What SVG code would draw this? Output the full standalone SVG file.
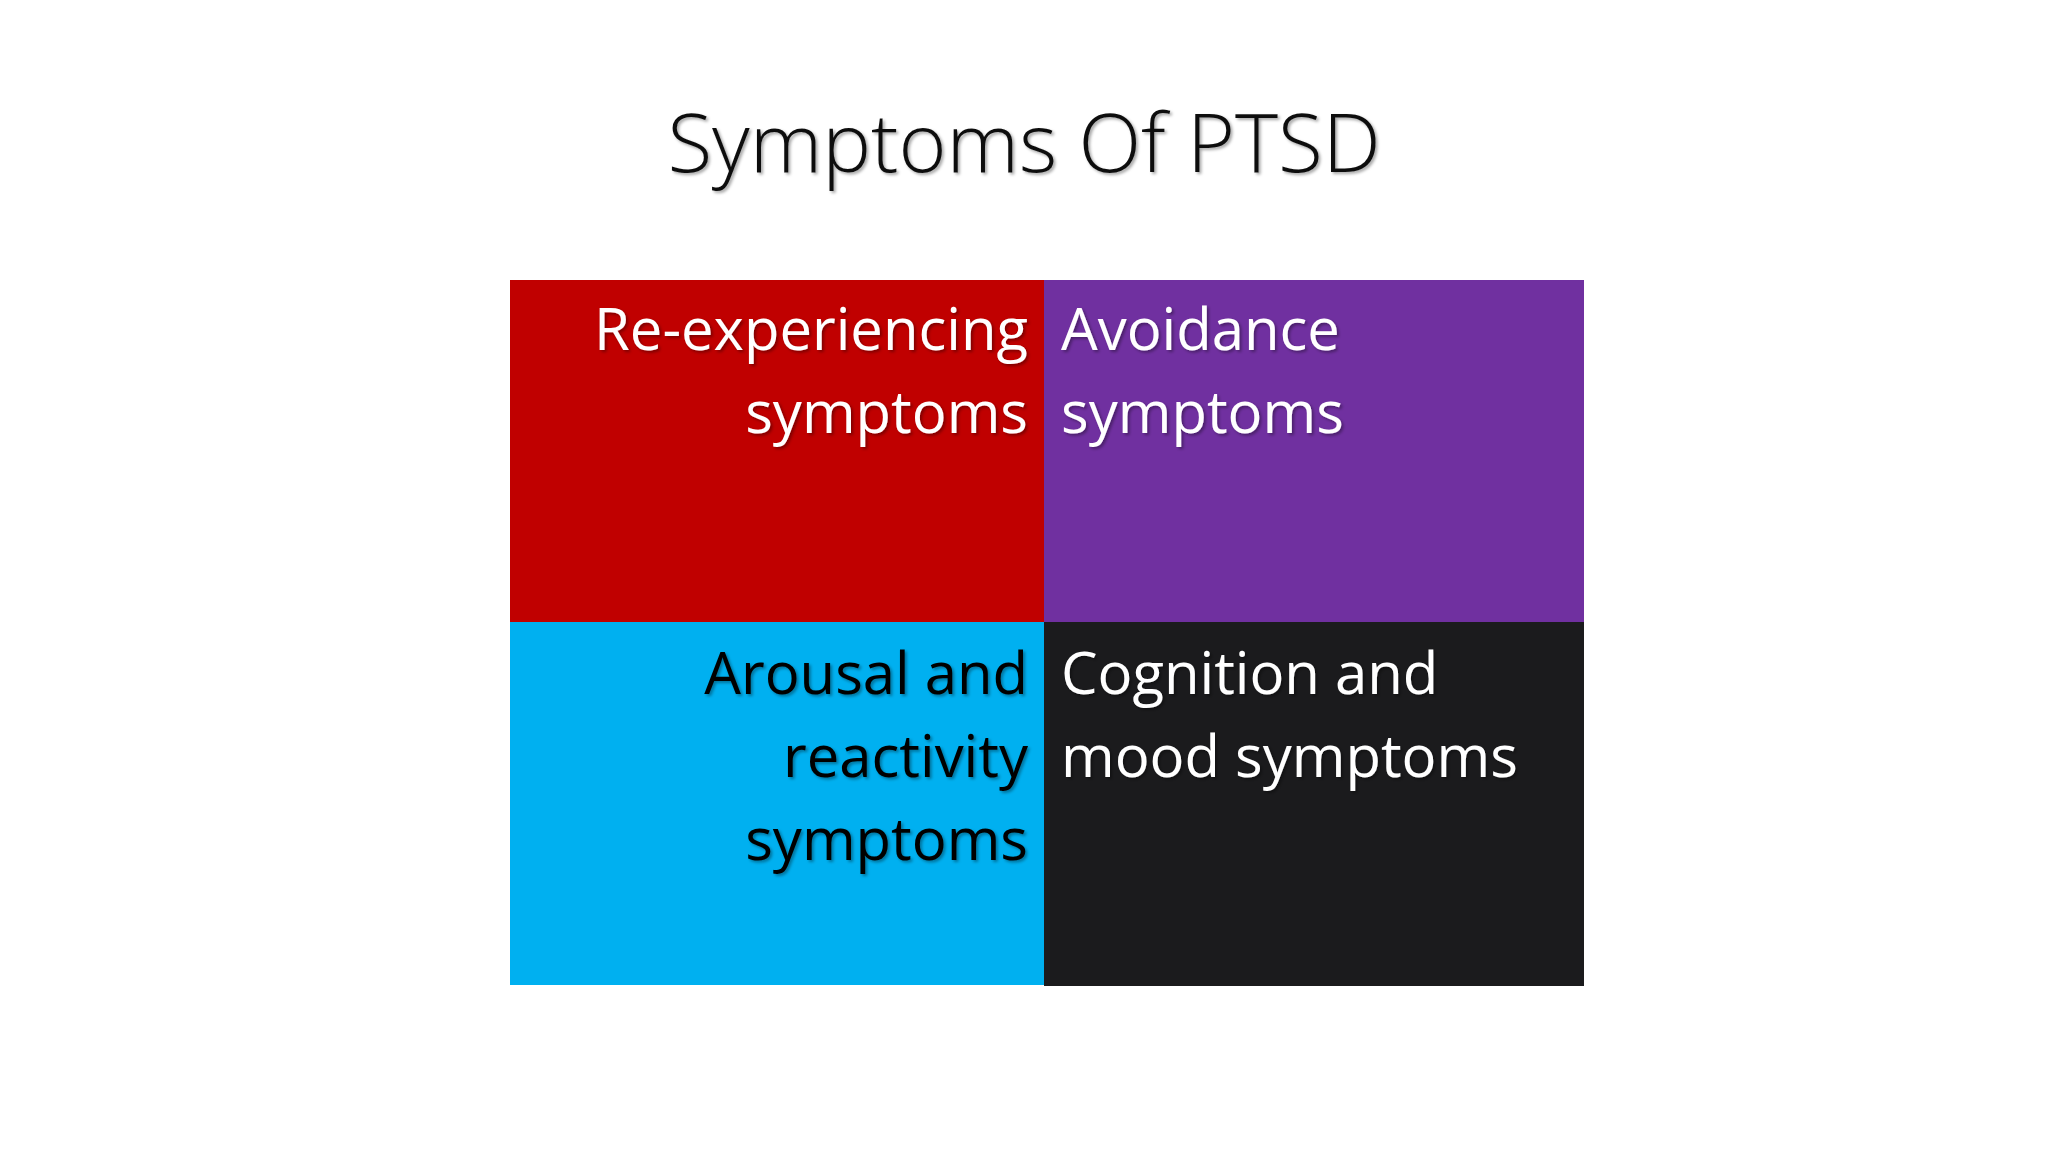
<svg xmlns="http://www.w3.org/2000/svg" width="2048" height="1152" viewBox="0 0 2048 1152">
<defs>
<filter id="sh" x="-10%" y="-10%" width="120%" height="130%"><feDropShadow dx="2" dy="2" stdDeviation="1.5" flood-color="#000" flood-opacity="0.35"/></filter>
</defs>
<style>
.t{font-family:"Open Sans","Liberation Sans",sans-serif;font-size:58px;filter:url(#sh)}
.w{fill:#fff}.k{fill:#000}
</style>
<rect width="2048" height="1152" fill="#fff"/>
<text x="1024" y="172" text-anchor="middle" font-family="Open Sans, Liberation Sans, sans-serif" font-weight="300" font-size="82" fill="#111" filter="url(#sh)">Symptoms Of PTSD</text>
<g id="n1"><rect x="510" y="280" width="534" height="342" fill="#c00000"/>
<text class="t w" text-anchor="end"><tspan x="1028" y="350">Re-experiencing</tspan><tspan x="1028" y="433">symptoms</tspan></text></g>
<g id="n2"><rect x="1044" y="280" width="540" height="342" fill="#7030a0"/>
<text class="t w"><tspan x="1061" y="350">Avoidance</tspan><tspan x="1061" y="433">symptoms</tspan></text></g>
<g id="n3"><rect x="510" y="622" width="534" height="363" fill="#00b0f0"/>
<text class="t k" text-anchor="end"><tspan x="1028" y="694">Arousal and</tspan><tspan x="1028" y="777">reactivity</tspan><tspan x="1028" y="860">symptoms</tspan></text></g>
<g id="n4"><rect x="1044" y="622" width="540" height="364" fill="#1b1b1d"/>
<text class="t w"><tspan x="1061" y="694">Cognition and</tspan><tspan x="1061" y="777">mood symptoms</tspan></text></g>
<g id="connectors"/>
</svg>
